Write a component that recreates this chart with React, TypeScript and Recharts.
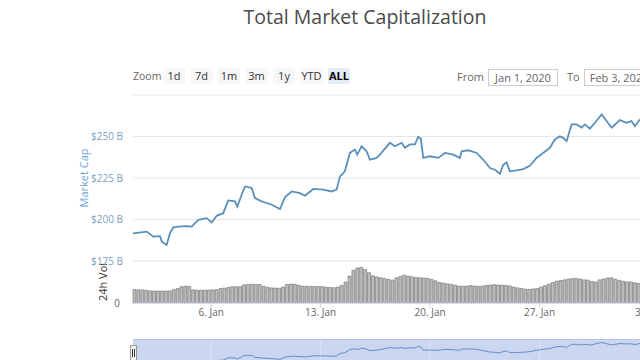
import React from 'react';
import { LineChart, Line, BarChart, Bar, XAxis, YAxis, CartesianGrid, Label, ReferenceLine } from 'recharts';

// market cap, billions USD, day offset from Jan 1 00:00
const capDays = [
  0, 0.88, 1.3, 1.73, 1.84, 2.15, 2.37, 2.58, 2.9, 3.43,
  3.75, 4.18, 4.71, 5.03, 5.35, 5.77, 6.09, 6.52, 6.67, 6.95,
  7.16, 7.59, 7.8, 8.23, 8.87, 9.4, 9.72, 10.15, 10.68, 11.0,
  11.53, 12.17, 12.7, 13.02, 13.24, 13.55, 13.87, 14.19, 14.34, 14.62,
  14.94, 15.15, 15.58, 15.79, 16.43, 16.75, 17.18, 17.39, 17.71, 18.03,
  18.24, 18.41, 18.56, 18.99, 19.52, 19.95, 20.48, 20.91, 21.02, 21.44,
  21.98, 22.4, 22.83, 23.15, 23.47, 23.68, 23.89, 24.1, 24.53, 24.96,
  25.38, 25.81, 26.23, 26.66, 26.98, 27.3, 27.51, 27.73, 28.05, 28.37,
  28.69, 28.9, 29.22, 29.54, 29.97, 30.29, 30.61, 31.14, 31.56, 31.88,
  32.1, 32.42,
];
const capValues = [
  191.7, 192.7, 189.7, 190, 186.7, 184.7, 191.9, 195.3, 195.7, 196,
  195.7, 199.8, 200.8, 198.2, 202.2, 203.8, 211.5, 210.9, 207.8, 214.9,
  219.9, 219, 212.9, 210.9, 208.9, 206.3, 213.5, 216.9, 215.9, 214.3,
  218.4, 218, 216.9, 218, 226, 229, 240.1, 242.1, 239.1, 244.1,
  241.1, 236, 237.1, 239.1, 246.2, 244.1, 246.2, 243.2, 245.2, 245.2,
  249.8, 248.6, 237.1, 238.1, 237.1, 240.1, 239.1, 237.1, 241.1, 241.7,
  240.1, 236, 231, 230, 227.6, 233, 234.4, 229, 229.6, 230.4,
  232.4, 237.1, 240.1, 243.2, 248.2, 250.2, 249.2, 247.2, 257.3, 257.3,
  255.3, 257.3, 254.7, 258.3, 263.3, 259.3, 255.3, 259.9, 258.3, 259.3,
  256.2, 260.3,
];

// 24h volume, 6-hourly, billions USD
const volValues = [
  80, 79, 78, 76, 72, 71, 71, 71, 71, 72, 80, 86,
  97, 100, 99, 78, 76, 77, 77, 77, 78, 80, 86, 89,
  93, 97, 97, 98, 108, 111, 112, 111, 110, 100, 94, 90,
  89, 88, 95, 110, 113, 112, 106, 100, 99, 99, 99, 98,
  98, 94, 92, 91, 95, 105, 125, 160, 195, 208, 212, 200,
  180, 162, 155, 150, 145, 140, 136, 150, 158, 165, 160, 156,
  152, 150, 149, 146, 140, 132, 122, 118, 114, 111, 106, 101,
  100, 101, 104, 101, 99, 101, 104, 107, 109, 107, 106, 105,
  102, 95, 90, 86, 82, 81, 84, 86, 95, 103, 112, 122,
  130, 134, 138, 142, 145, 146, 143, 138, 136, 128, 125, 138,
  143, 148, 150, 142, 135, 130, 126, 125, 120, 116, 112, 110,
];

const capTicks = [175, 200, 225, 250, 275];
const dayTicks = [5, 12, 19, 26, 33];
const dayLabels = ['6. Jan', '13. Jan', '20. Jan', '27. Jan', '3. Feb'];
const zoomButtons = ['1d', '7d', '1m', '3m', '1y', 'YTD', 'ALL'];

const capData = capDays.map((d, i) => ({ t: d, cap: capValues[i] }));
const volData = volValues.map((v, i) => ({ t: i * 0.25 + 0.125, vol: v }));

const font = '"Open Sans", sans-serif';

export default function App() {
  return (
    <div style={{ position: 'absolute', left: 0, top: 0, width: 640, height: 360, overflow: 'hidden', background: '#fff', fontFamily: font }}>
      <div style={{ position: 'absolute', left: 0, top: 3, width: 730, textAlign: 'center', fontSize: 19.5, color: '#4a4a4a' }}>
        Total Market Capitalization
      </div>

      {/* range selector */}
      <div style={{ position: 'absolute', left: 133, top: 69, fontSize: 10.5, color: '#666', lineHeight: '15px' }}>Zoom</div>
      {zoomButtons.map((b, i) => (
        <div
          key={b}
          style={{
            position: 'absolute', left: 163 + i * 27.5, top: 68, width: 22, height: 16, lineHeight: '16px',
            textAlign: 'center', fontSize: 11, borderRadius: 2,
            background: b === 'ALL' ? '#e6ebf5' : '#f7f7f7',
            color: b === 'ALL' ? '#000' : '#333', fontWeight: b === 'ALL' ? 700 : 400,
          }}
        >
          {b}
        </div>
      ))}
      <div style={{ position: 'absolute', left: 457, top: 69, fontSize: 11, color: '#666', lineHeight: '15px' }}>From</div>
      <div style={{ position: 'absolute', left: 488, top: 69, width: 68, height: 15, border: '1px solid #ccc', fontSize: 11, color: '#666', textAlign: 'center', lineHeight: '15px' }}>Jan 1, 2020</div>
      <div style={{ position: 'absolute', left: 567, top: 69, fontSize: 11, color: '#666', lineHeight: '15px' }}>To</div>
      <div style={{ position: 'absolute', left: 584, top: 69, width: 68, height: 15, border: '1px solid #ccc', fontSize: 11, color: '#666', textAlign: 'center', lineHeight: '15px' }}>Feb 3, 2020</div>

      {/* volume pane */}
      <div style={{ position: 'absolute', left: 0, top: 0 }}>
        <BarChart width={660} height={330} data={volData} margin={{ top: 261, right: 11, bottom: 0, left: 0 }}>
          <XAxis
            dataKey="t"
            type="number"
            domain={[0, 33]}
            ticks={dayTicks}
            interval={0}
            height={27}
            tickSize={5}
            tickMargin={1}
            stroke="#ccd6eb"
            tick={{ fill: '#666', fontSize: 10, fontFamily: font }}
            tickFormatter={(v: number) => dayLabels[dayTicks.indexOf(v)]}
          />
          <YAxis
            width={133}
            domain={[0, 250]}
            ticks={[0]}
            axisLine={false}
            tickLine={false}
            tickMargin={7}
            tick={{ fill: '#666', fontSize: 10, fontFamily: font }}
          >
            <Label value="24h Vol" angle={-90} position="insideLeft" offset={103} textAnchor="middle" fill="#333" fontSize={11} fontFamily={font} />
          </YAxis>
          <Bar dataKey="vol" fill="#bdbdbd" stroke="#555" strokeWidth={0.5} barSize={3} isAnimationActive={false} />
        </BarChart>
      </div>

      {/* price pane */}
      <div style={{ position: 'absolute', left: 0, top: 0 }}>
        <LineChart width={660} height={275} data={capData} margin={{ top: 95, right: 11, bottom: 14, left: 0 }}>
          <CartesianGrid horizontal vertical={false} stroke="#e6e6e6" />
          <XAxis dataKey="t" type="number" domain={[0, 33]} hide />
          <YAxis
            width={133}
            domain={[175, 275]}
            ticks={capTicks}
            axisLine={false}
            tickLine={false}
            tickMargin={4}
            tick={{ fill: '#7a9fc0', fontSize: 10, fontFamily: font }}
            tickFormatter={(v: number) => (v === 275 ? '' : `$${v} B`)}
          >
            <Label value="Market Cap" angle={-90} position="insideLeft" offset={84} textAnchor="middle" fill="#6aa5d8" fontSize={11} fontFamily={font} />
          </YAxis>
          <Line type="linear" dataKey="cap" stroke="#5a90ba" strokeWidth={1.8} dot={false} isAnimationActive={false} />
        </LineChart>
      </div>

      {/* navigator */}
      <div style={{ position: 'absolute', left: 133, top: 339, width: 520, height: 40, background: '#cbd7f0', borderTop: '1px solid #b3c3e5' }} />
      <div style={{ position: 'absolute', left: 0, top: 340 }}>
        <LineChart width={660} height={40} data={capData} margin={{ top: 0, right: 11, bottom: 0, left: 133 }}>
          <XAxis dataKey="t" type="number" domain={[0, 33]} hide />
          <YAxis domain={[136, 272]} hide />
          {dayTicks.slice(0, 4).map((d) => (
            <ReferenceLine key={d} x={d} stroke="#dce4f4" />
          ))}
          <Line type="linear" dataKey="cap" stroke="#6b8ccc" strokeWidth={1} dot={false} isAnimationActive={false} />
        </LineChart>
      </div>
      <div style={{ position: 'absolute', left: 130, top: 345, width: 5, height: 14, background: '#f2f2f2', border: '1px solid #999', boxSizing: 'content-box' }}>
        <div style={{ position: 'absolute', left: 1, top: 3, width: 1, height: 8, background: '#333' }} />
        <div style={{ position: 'absolute', left: 3, top: 3, width: 1, height: 8, background: '#333' }} />
      </div>
    </div>
  );
}
